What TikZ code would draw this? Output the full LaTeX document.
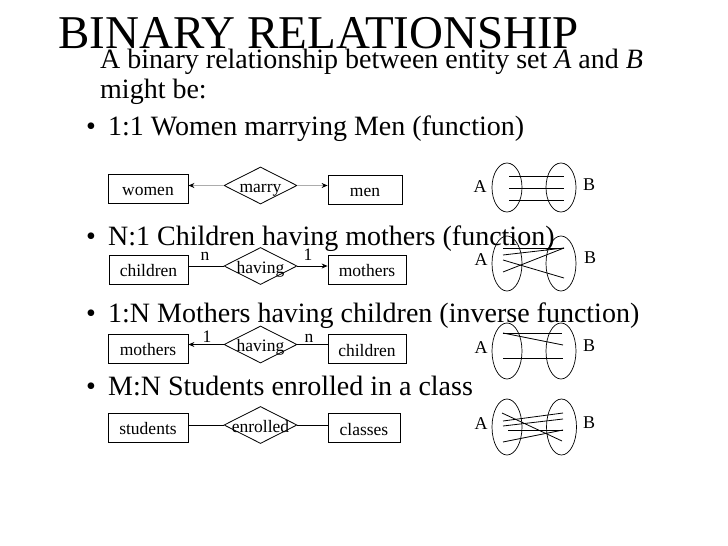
\documentclass[tikz,border=0pt]{standalone}
\usepackage{fontspec}
\setmainfont{Liberation Serif}
\usetikzlibrary{shapes.geometric,arrows.meta}
\begin{document}
\begin{tikzpicture}[x=1pt,y=-1pt,
  txt/.style={anchor=base west, inner sep=0pt, font=\fontsize{28}{32}\selectfont},
  ent/.style={draw, line width=0.8pt, inner sep=0pt, minimum height=29pt, text height=16pt, text depth=2pt, font=\fontsize{17.5}{20}\selectfont},
  rel/.style={draw, diamond, inner sep=0pt, line width=0.8pt, minimum width=73pt, minimum height=37pt},
  reltext/.style={inner sep=0pt, text height=16pt, text depth=2pt, font=\fontsize{17.5}{20}\selectfont},
  card/.style={anchor=base, inner sep=0pt, font=\fontsize{17.5}{20}\selectfont},
  setl/.style={anchor=base, inner sep=0pt, font=\fontsize{18}{20}\selectfont},
  sete/.style={draw, ellipse, inner sep=0pt, line width=0.7pt, minimum width=30pt},
  map/.style={line width=0.8pt},
  conn/.style={line width=0.8pt},
  gconn/.style={line width=1.6pt, draw=gray!65},
  tip/.style={-{Stealth[length=6pt,width=5pt,color=black]}}
]
\useasboundingbox (0,0) rectangle (728,546);

% texts
\node[anchor=base west, inner sep=0pt, font=\fontsize{47}{50}\selectfont] (title) at (58,48) {BINARY RELATIONSHIP};
\node[txt] (sub1) at (100,68) {A binary relationship between entity set \textit{A} and \textit{B}};
\node[txt] (sub2) at (100,98) {might be:};
\node[txt] (b1) at (86,135) {•};
\node[txt] (t1) at (108,135) {1:1 Women marrying Men (function)};
\node[txt] (b2) at (86,245) {•};
\node[txt] (t2) at (108,245) {N:1 Children having mothers (function)};
\node[txt] (b3) at (86,322) {•};
\node[txt] (t3) at (108,322) {1:N Mothers having children (inverse function)};
\node[txt] (b4) at (86,395) {•};
\node[txt] (t4) at (108,395) {M:N Students enrolled in a class};

% row 1
\node[ent, minimum width=80pt] (women) at (148,188.5) {women};
\node[rel] (d1) at (260.5,185.5) {};
\node[reltext] (d1t) at (260.5,185.5) {marry};
\node[ent, minimum width=74pt] (men) at (365,189.5) {men};
\draw[gconn, tip] (d1.west) -- (d1.west -| women.east);
\draw[gconn, tip] (d1.east) -- (d1.east -| men.west);

% row 2
\node[ent, minimum width=79pt] (children2) at (148.5,269.5) {children};
\node[rel] (d2) at (260.5,266) {};
\node[reltext] (d2t) at (260.5,266) {having};
\node[ent, minimum width=78pt] (mothers2) at (367,269.5) {mothers};
\draw[conn] (d2.west -| children2.east) -- (d2.west);
\draw[conn, tip] (d2.east) -- (d2.east -| mothers2.west);
\node[card] (n2) at (205,260) {n};
\node[card] (o2) at (308,260) {1};

% row 3
\node[ent, minimum width=80pt] (mothers3) at (148,348.5) {mothers};
\node[rel] (d3) at (260.5,344.5) {};
\node[reltext] (d3t) at (260.5,344.5) {having};
\node[ent, minimum width=78pt] (children3) at (367,349) {children};
\draw[conn, tip] (d3.west) -- (d3.west -| mothers3.east);
\draw[conn] (d3.east) -- (d3.east -| children3.west);
\node[card] (o3) at (207,342.5) {1};
\node[card] (n3) at (309,342.5) {n};

% row 4
\node[ent, minimum width=80pt] (students) at (148,427.5) {students};
\node[rel] (d4) at (260.5,425) {};
\node[reltext] (d4t) at (260.5,425) {enrolled};
\node[ent, minimum width=72pt] (classes) at (364,428) {classes};
\draw[conn] (d4.west -| students.east) -- (d4.west);
\draw[conn] (d4.east) -- (d4.east -| classes.west);

% set diagram 1
\node[sete, minimum height=49pt] (A1) at (507,187.5) {};
\node[sete, minimum height=49pt] (B1) at (561,187.5) {};
\node[setl] (la1) at (480,192) {A};
\node[setl] (lb1) at (589,190) {B};
\draw[map] (509,176) -- (564,176);
\draw[map] (509,188) -- (564,188);
\draw[map] (509,200) -- (564,200);

% set diagram 2
\node[sete, minimum height=55pt] (A2) at (507,263.5) {};
\node[sete, minimum height=55pt] (B2) at (561,263.5) {};
\node[setl] (la2) at (481,265) {A};
\node[setl] (lb2) at (590,263) {B};
\draw[map] (503,248) -- (564,248);
\draw[map] (503,255) -- (564,248);
\draw[map] (503,260) -- (564,278);
\draw[map] (503,272) -- (564,248);

% set diagram 3
\node[sete, minimum height=56pt] (A3) at (507,351) {};
\node[sete, minimum height=56pt] (B3) at (561,351) {};
\node[setl] (la3) at (481,353) {A};
\node[setl] (lb3) at (589,351) {B};
\draw[map] (503,333) -- (562,333);
\draw[map] (503,333) -- (563,345);
\draw[map] (503,358) -- (563,358);

% set diagram 4
\node[sete, minimum height=56pt] (A4) at (507,427) {};
\node[sete, minimum height=56pt] (B4) at (561.5,427) {};
\node[setl] (la4) at (481,429) {A};
\node[setl] (lb4) at (589,428) {B};
\draw[map] (502,413) -- (562,441);
\draw[map] (503,421) -- (563,413);
\draw[map] (503,426) -- (563,419);
\draw[map] (508,430) -- (563,430);
\draw[map] (503,442) -- (563,430);
\end{tikzpicture}
\end{document}
